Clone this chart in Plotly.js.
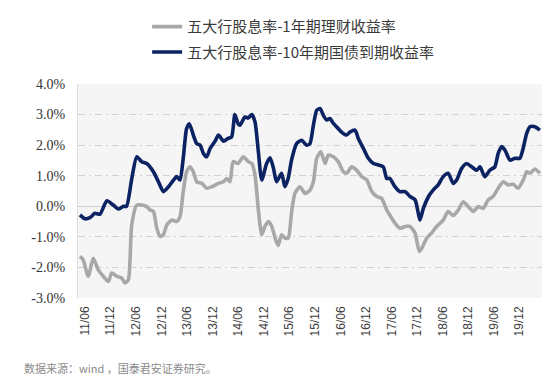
<!DOCTYPE html>
<html>
<head>
<meta charset="utf-8">
<script src="https://cdn.plot.ly/plotly-3.0.1.min.js"></script>
<style>
  html, body { margin: 0; padding: 0; background: #ffffff; }
  #chart { width: 558px; height: 385px; }
</style>
</head>
<body>
<div id="chart"></div>
<script>
// ---- Data ----
const seriesNames = ["五大行股息率-1年期理财收益率", "五大行股息率-10年期国债到期收益率"];

const grayDates = [
  "2011-04-26","2011-05-19","2011-06-24","2011-07-30","2011-09-04","2011-10-10","2011-11-15","2011-12-09",
  "2012-01-14","2012-02-19","2012-03-13","2012-04-06","2012-04-30","2012-06-05","2012-07-10","2012-08-15",
  "2012-09-09","2012-10-02","2012-10-26","2012-11-19","2012-12-12","2013-01-06","2013-02-11","2013-03-17",
  "2013-04-10","2013-05-03","2013-05-27","2013-06-20","2013-07-14","2013-08-08","2013-09-13","2013-10-18",
  "2013-11-23","2014-01-10","2014-02-15","2014-03-09","2014-04-02","2014-04-25","2014-05-30","2014-07-06",
  "2014-08-11","2014-09-05","2014-09-28","2014-10-21","2014-11-15","2014-12-08","2015-01-02","2015-01-26",
  "2015-02-19","2015-03-12","2015-04-06","2015-04-29","2015-05-23","2015-06-17","2015-07-10","2015-08-15",
  "2015-09-20","2015-10-26","2015-11-19","2015-12-13","2016-01-11","2016-02-11","2016-03-04","2016-04-10",
  "2016-05-15","2016-06-20","2016-07-14","2016-08-19","2016-09-24","2016-10-30","2016-12-05","2017-01-10",
  "2017-02-15","2017-03-21","2017-04-26","2017-06-01","2017-06-24","2017-07-29","2017-09-05","2017-10-10",
  "2017-11-15","2017-12-15","2018-01-02","2018-02-07","2018-03-12","2018-04-18","2018-06-04","2018-07-09",
  "2018-08-15","2018-09-20","2018-10-25","2018-11-30","2019-01-05","2019-02-10","2019-03-16","2019-04-21",
  "2019-05-26","2019-07-02","2019-08-07","2019-09-12","2019-10-17","2019-11-22","2019-12-28","2020-01-22",
  "2020-02-14","2020-03-20","2020-04-25"
];
const grayVals = [
  -1.64,-1.75,-2.29,-1.70,-2.08,-2.29,-2.46,-2.18,
  -2.29,-2.35,-2.51,-2.40,-0.61,0.04,0.04,-0.01,
  -0.12,-0.17,-0.72,-0.99,-0.93,-0.61,-0.45,-0.50,
  -0.34,0.48,1.13,1.29,1.13,0.80,0.75,0.59,
  0.64,0.75,0.80,0.91,0.80,1.46,1.40,1.62,
  1.46,1.40,1.02,-0.07,-0.93,-0.66,-0.50,-0.66,
  -1.04,-1.28,-0.93,-1.04,-1.04,-0.17,0.42,0.64,
  0.42,0.53,0.80,1.57,1.78,1.40,1.67,1.62,
  1.46,1.13,1.08,1.29,1.18,0.97,0.86,0.48,
  0.32,0.26,-0.12,-0.39,-0.55,-0.72,-0.66,-0.66,
  -0.88,-1.48,-1.37,-1.04,-0.88,-0.66,-0.45,-0.17,
  -0.30,-0.12,0.15,-0.01,-0.17,-0.01,-0.07,0.21,
  0.32,0.59,0.80,0.70,0.72,0.59,0.86,1.13,
  1.08,1.22,1.08
];

const navyDates = [
  "2011-04-26","2011-06-01","2011-07-06","2011-08-11","2011-09-16","2011-11-04","2011-12-20","2012-01-26",
  "2012-03-01","2012-03-24","2012-04-30","2012-06-05","2012-07-10","2012-08-15","2012-10-02","2012-11-07",
  "2012-12-13","2013-01-18","2013-02-23","2013-03-17","2013-04-10","2013-05-03","2013-05-27","2013-06-16",
  "2013-07-14","2013-08-07","2013-09-01","2013-09-24","2013-10-18","2013-11-11","2013-12-17","2014-01-10",
  "2014-02-15","2014-03-20","2014-04-14","2014-05-07","2014-05-30","2014-06-12","2014-07-18","2014-08-11",
  "2014-09-05","2014-09-28","2014-10-22","2014-11-15","2014-12-20","2015-01-14","2015-02-07","2015-03-01",
  "2015-04-06","2015-04-29","2015-05-23","2015-06-16","2015-07-22","2015-08-27","2015-10-02","2015-10-26",
  "2015-11-19","2015-12-13","2016-01-06","2016-01-29","2016-02-23","2016-03-16","2016-04-10","2016-05-15",
  "2016-06-20","2016-07-14","2016-08-07","2016-09-12","2016-10-05","2016-11-11","2016-12-16","2017-01-21",
  "2017-02-26","2017-04-02","2017-04-26","2017-05-19","2017-06-24","2017-07-29","2017-09-05","2017-10-10",
  "2017-11-15","2017-12-08","2017-12-20","2018-01-13","2018-02-19","2018-03-24","2018-04-29","2018-06-04",
  "2018-07-09","2018-08-15","2018-09-08","2018-10-14","2018-11-19","2018-12-24","2019-01-30","2019-02-22",
  "2019-03-28","2019-05-03","2019-06-08","2019-07-02","2019-07-25","2019-08-19","2019-09-24","2019-10-29",
  "2019-12-04","2019-12-27","2020-01-21","2020-02-14","2020-03-20","2020-04-25"
];
const navyVals = [
  -0.28,-0.41,-0.37,-0.23,-0.26,0.18,0.04,-0.09,
  0.00,0.00,0.90,1.62,1.46,1.40,1.13,0.80,
  0.48,0.64,0.86,0.97,0.86,1.57,2.54,2.70,
  2.33,2.05,2.00,1.73,1.62,1.89,2.13,2.33,
  2.13,2.22,2.27,3.00,2.70,2.65,2.92,2.89,
  3.00,2.76,1.78,0.86,1.40,1.59,1.24,0.80,
  1.08,0.64,0.91,1.51,2.05,2.16,2.00,2.05,
  2.65,3.14,3.20,2.98,2.82,2.87,2.71,2.54,
  2.38,2.33,2.43,2.49,2.22,1.89,1.57,1.40,
  1.35,1.29,0.91,0.91,0.64,0.48,0.48,0.32,
  0.21,-0.23,-0.45,-0.07,0.32,0.53,0.70,0.97,
  1.08,0.75,0.86,1.24,1.40,1.29,1.18,1.29,
  0.97,1.18,1.29,1.73,1.95,1.84,1.51,1.57,
  1.57,1.89,2.38,2.60,2.60,2.49
];

const xTickVals = [
  "2011-06-01","2011-12-01","2012-06-01","2012-12-01","2013-06-01","2013-12-01",
  "2014-06-01","2014-12-01","2015-06-01","2015-12-01","2016-06-01","2016-12-01",
  "2017-06-01","2017-12-01","2018-06-01","2018-12-01","2019-06-01","2019-12-01"
];
const xTickText = [
  "11/06","11/12","12/06","12/12","13/06","13/12","14/06","14/12","15/06",
  "15/12","16/06","16/12","17/06","17/12","18/06","18/12","19/06","19/12"
];
const yTickVals = [-3, -2, -1, 0, 1, 2, 3, 4];
const yTickText = ["-3.0%","-2.0%","-1.0%","0.0%","1.0%","2.0%","3.0%","4.0%"];
const sourceNote = "数据来源：wind ，国泰君安证券研究。";

// ---- Chart ----
const GRAY = "#a8a8a8";
const NAVY = "#0b2263";

const traces = [
  {
    type: "scatter", mode: "lines", name: seriesNames[0],
    x: grayDates, y: grayVals,
    line: { color: GRAY, width: 3.6, shape: "spline", smoothing: 0.6 },
    legend: "legend"
  },
  {
    type: "scatter", mode: "lines", name: seriesNames[1],
    x: navyDates, y: navyVals,
    line: { color: NAVY, width: 3.6, shape: "spline", smoothing: 0.6 },
    legend: "legend2"
  }
];

const legendFont = { family: "Noto Sans CJK SC, sans-serif", size: 15, color: "#3a3a3a" };

const layout = {
  width: 558, height: 385,
  margin: { l: 78, r: 16, t: 83, b: 87 },
  paper_bgcolor: "#ffffff",
  plot_bgcolor: "#f5f5f5",
  showlegend: true,
  legend: {
    x: 0.149, xanchor: "left", y: 1.338, yanchor: "top",
    bgcolor: "rgba(0,0,0,0)", borderwidth: 0, font: legendFont, itemwidth: 30
  },
  legend2: {
    x: 0.149, xanchor: "left", y: 1.22, yanchor: "top",
    bgcolor: "rgba(0,0,0,0)", borderwidth: 0, font: legendFont, itemwidth: 30
  },
  xaxis: {
    type: "date",
    range: ["2011-04-12", "2020-05-10"],
    tickmode: "array", tickvals: xTickVals, ticktext: xTickText,
    tickangle: -90,
    showgrid: false, zeroline: false, showline: false,
    ticks: "", ticklabelstandoff: 5,
    tickfont: { family: "Liberation Sans, Arial, sans-serif", size: 12, color: "#404040" }
  },
  yaxis: {
    range: [-3, 4],
    tickmode: "array", tickvals: yTickVals, ticktext: yTickText,
    showgrid: true, gridcolor: "#d2d2d2", gridwidth: 1, griddash: "7px,4px,2px,4px",
    zeroline: true, zerolinecolor: "#cfcfcf", zerolinewidth: 1.5,
    showline: true, linecolor: "#dddddd", linewidth: 1,
    ticks: "", ticklabelstandoff: 9,
    tickfont: { family: "Liberation Serif, Times New Roman, serif", size: 14, color: "#333333" }
  },
  annotations: [
    {
      text: sourceNote, showarrow: false,
      xref: "paper", yref: "paper",
      x: (22 - 78) / 464, xanchor: "left",
      y: (298 - 368) / 215, yanchor: "middle",
      font: { family: "Noto Sans CJK SC, sans-serif", size: 11, color: "#8a8a8a" }
    }
  ]
};

Plotly.newPlot("chart", traces, layout, { displayModeBar: false, staticPlot: true });
</script>
</body>
</html>
